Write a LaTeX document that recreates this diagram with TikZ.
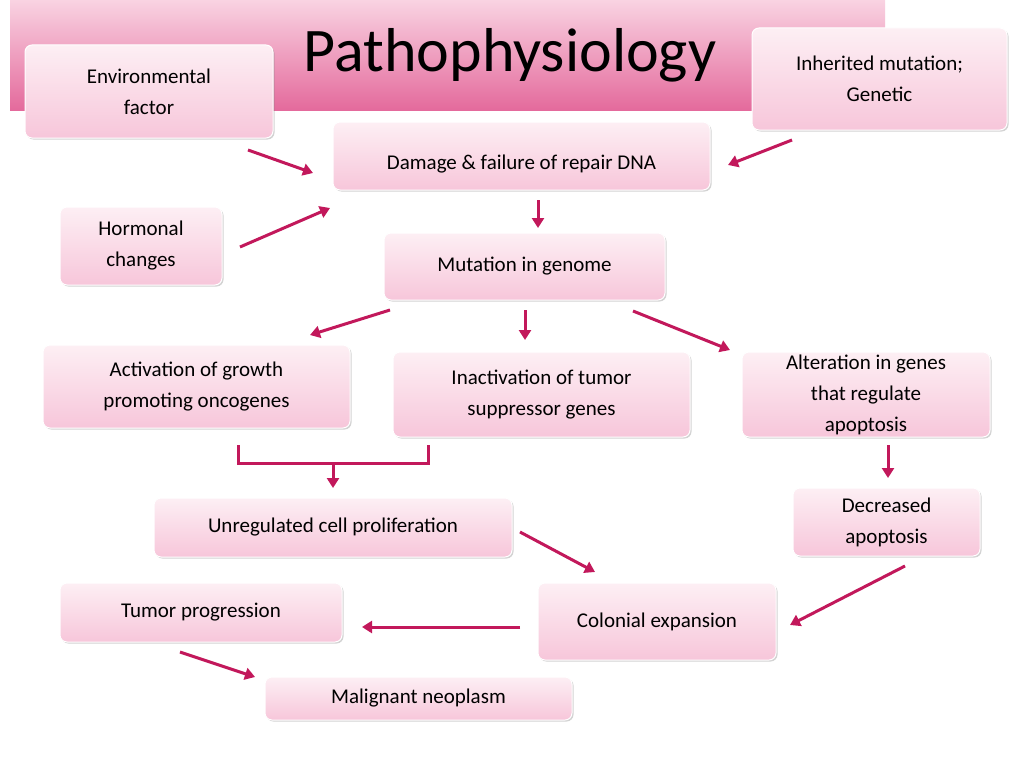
\documentclass[tikz,border=0pt]{standalone}
\usepackage{fontspec}
\setmainfont{Carlito}
\usetikzlibrary{arrows.meta,shadows}
\definecolor{arr}{HTML}{C2185B}
\definecolor{boxtop}{HTML}{FDEFF4}
\definecolor{boxbot}{HTML}{F7C6DA}
\definecolor{bandl}{HTML}{F9D3E2}
\definecolor{bandr}{HTML}{E46A9C}
\tikzset{
 bx/.style={draw=white,line width=1pt,rounded corners=7pt,top color=boxtop,bottom color=boxbot,
   drop shadow={shadow xshift=1.5pt,shadow yshift=-1.5pt,opacity=0.35,fill=gray},
   font=\fontsize{21}{31}\selectfont,align=center,inner sep=0pt},
 ar/.style={draw=arr,line width=3pt,-{Triangle[length=10pt,width=12pt]}},
 br/.style={draw=arr,line width=3pt}
}
\newcommand{\bxn}[6]{\node[bx,minimum width=#4-#2,minimum height=#5-#3] (#1) at ({(#2+#4)/2},{(#3+#5)/2}) {#6};}
\begin{document}
\begin{tikzpicture}[x=1pt,y=-1pt]
\useasboundingbox (0,0) rectangle (1024,768);
\fill[white] (0,0) rectangle (1024,768);
\shade[top color=bandl,bottom color=bandr,draw=none] (10,0) rectangle (885,110);
\node[font=\fontsize{62}{66}\selectfont] (title) at (510,55) {Pathophysiology};
\bxn{env}{25}{45}{273}{138}{Environmental\\factor}
\bxn{inh}{752}{28}{1007}{130}{Inherited mutation;\\Genetic}
\bxn{dmg}{333}{122}{710}{190}{\mbox{}\\Damage \& failure of repair DNA}
\bxn{hor}{60}{207}{222}{285}{Hormonal\\changes}
\bxn{mut}{384}{233}{665}{300}{Mutation in genome}
\bxn{act}{43}{345}{350}{428}{Activation of growth\\promoting oncogenes}
\bxn{ina}{393}{352}{690}{437}{Inactivation of tumor\\suppressor genes}
\bxn{alt}{742}{352}{990}{437}{Alteration in genes\\that regulate\\apoptosis}
\bxn{unr}{154}{498}{512}{557}{Unregulated cell proliferation}
\bxn{dec}{793}{488}{980}{556}{Decreased\\apoptosis}
\bxn{tum}{60}{583}{342}{642}{Tumor progression}
\bxn{col}{538}{583}{776}{660}{Colonial expansion}
\bxn{mal}{265}{677}{572}{720}{Malignant neoplasm}
\coordinate (a1) at (248,150); \coordinate (b1) at (313,173);
\coordinate (a2) at (240,247); \coordinate (b2) at (330,208);
\coordinate (a3) at (792,140); \coordinate (b3) at (728,165);
\coordinate (a4) at (538,200); \coordinate (b4) at (538,228);
\coordinate (a5) at (390,310); \coordinate (b5) at (310,335);
\coordinate (a6) at (525,310); \coordinate (b6) at (525,340);
\coordinate (a7) at (633,311); \coordinate (b7) at (730,350);
\coordinate (c1) at (238,445); \coordinate (c2) at (238,463);
\coordinate (c3) at (428,463); \coordinate (c4) at (428,445);
\coordinate (a8) at (333,463); \coordinate (b8) at (333,488);
\coordinate (a9) at (888,445); \coordinate (b9) at (888,478);
\coordinate (a10) at (520,532); \coordinate (b10) at (595,572);
\coordinate (a11) at (905,566); \coordinate (b11) at (790,625);
\coordinate (a12) at (520,627); \coordinate (b12) at (362,627);
\coordinate (a13) at (180,652); \coordinate (b13) at (255,677);
\foreach \i in {1,...,13} {\draw[ar] (a\i) -- (b\i);}
\draw[br] (c1) -- (c2) -- (c3) -- (c4);
\end{tikzpicture}
\end{document}
